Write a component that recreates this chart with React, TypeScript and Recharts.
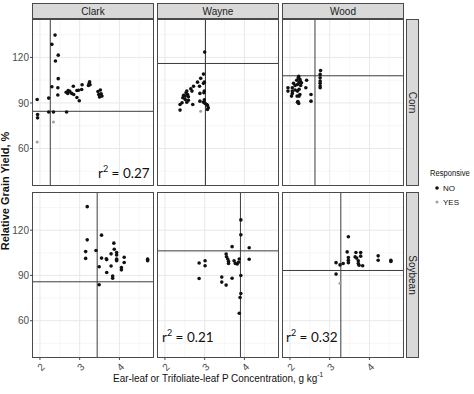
import { ScatterChart, Scatter, XAxis, YAxis, CartesianGrid, ReferenceLine } from "recharts"

// facet labels
const sites = ["Clark", "Wayne", "Wood"]
const crops = ["Corn", "Soybean"]

// axis ticks (major + minor gridlines)
const xTicks = [2, 3, 4]
const xMinor = [2.5, 3.5, 4.5]
const yTicks = [60, 90, 120]
const yMinor = [45, 75, 105, 135]

// critical P concentration / relative yield, row-major (Corn: Clark, Wayne, Wood; Soybean: Clark, Wayne, Wood)
const critX = [2.26, 3.02, 2.63, 3.44, 3.9, 3.28]
const critY = [84.5, 116, 107.9, 85.8, 106.3, 93.3]
const rSquared = ["0.27", "", "", "", "0.21", "0.32"]

// [P concentration, relative yield]
const clarkCornNo: [number, number][] = [
  [2.38, 134.7], [2.3, 128.6], [2.46, 121.5], [2.39, 117.6], [2.46, 106], [2.3, 100.7], [2.45, 100],
  [2.45, 95.2], [1.93, 92.3], [2.22, 93.2], [2.22, 84], [2.34, 84], [2.67, 84], [1.94, 82.4], [1.94, 80.2],
  [2.66, 97.1], [2.71, 98.2], [2.7, 96.3], [2.75, 97.6], [2.8, 96.3], [2.84, 101], [2.85, 95.6],
  [2.93, 98.2], [2.93, 93.6], [2.99, 91.5], [2.97, 98.4], [3.05, 98.9], [3.06, 102],
  [3.22, 101.5], [3.24, 103], [3.26, 102], [3.25, 104],
  [3.46, 97.5], [3.48, 95.5], [3.52, 98.5], [3.54, 96], [3.56, 94.5], [3.5, 94],
]
const clarkCornYes: [number, number][] = [[2.34, 77.5], [1.93, 64.2]]

const wayneCornNo: [number, number][] = [
  [3.0, 123.5], [2.97, 109], [2.9, 106.2], [2.99, 103.7], [2.97, 102.9], [2.82, 103.7], [2.72, 101],
  [2.65, 99.4], [2.68, 97.8], [2.87, 101], [2.99, 97.8], [2.98, 96.7], [2.88, 96.3], [2.55, 97.8],
  [2.53, 96.7], [2.57, 95.6], [2.51, 94.5], [2.59, 94.1], [2.47, 95], [2.45, 93.4], [2.51, 92.3],
  [2.59, 91.8], [2.55, 90.5], [2.43, 90.1], [2.38, 89], [2.38, 85.3], [2.7, 89], [2.88, 91.2],
  [2.97, 90.5], [3.01, 89.7], [3.05, 89], [3.07, 88.4], [3.09, 86.8], [3.07, 85.7], [2.99, 92],
]
const wayneCornYes: [number, number][] = [[2.9, 84.6]]

const woodCornNo: [number, number][] = [
  [2.77, 111.4], [2.76, 108.8], [2.76, 106.6], [2.76, 104.4], [2.76, 102.9], [2.76, 101.1], [2.76, 100],
  [2.21, 106.6], [2.25, 105.5], [2.17, 105], [2.23, 103.5], [2.29, 103.3], [2.19, 102.2], [2.27, 101.5],
  [2.13, 101.5], [2.09, 103], [2.42, 105], [2.4, 100], [2.06, 100], [1.95, 100], [1.95, 97.8],
  [2.06, 97.8], [2.06, 96.3], [2.13, 98.5], [2.19, 97.8], [2.25, 95.6], [2.23, 94.5], [2.19, 90.5],
  [2.22, 89.7], [2.2, 91], [2.53, 95.6], [2.53, 91.2], [2.04, 94.5], [2.18, 94.5], [2.23, 99],
  [2.22, 107.5], [2.26, 104.5],
]
const woodCornYes: [number, number][] = []

const clarkSoyNo: [number, number][] = [
  [3.19, 135.6], [3.19, 113.6], [3.15, 105.8], [3.15, 101.3], [3.41, 106.5], [3.55, 116.7], [3.55, 101.5],
  [3.49, 95.8], [3.49, 83.8], [3.67, 101], [3.68, 100.5], [3.68, 92], [3.79, 104.3], [3.79, 96.3],
  [3.86, 111.4], [3.87, 107.4], [3.93, 105.2], [3.93, 103.6], [3.93, 100.8], [3.93, 99.7], [3.83, 89.6],
  [3.83, 88.1], [4.05, 95.2], [4.05, 93.7], [4.12, 102.1], [4.12, 98.6], [4.71, 100.8], [4.71, 99.7],
]
const clarkSoyYes: [number, number][] = []

const wayneSoyNo: [number, number][] = [
  [3.91, 126.8], [3.91, 116.9], [3.91, 90], [3.91, 78], [3.89, 75.4], [3.87, 65], [3.69, 109.1],
  [3.69, 88.1], [4.12, 108.4], [4.12, 100.7], [3.54, 104.2], [3.54, 83.6], [3.55, 102.4], [3.58, 100.9],
  [3.6, 99.3], [3.6, 98], [3.74, 99.7], [3.77, 98], [3.82, 97.6], [3.85, 98.7], [3.87, 100.9],
  [2.86, 98.3], [2.86, 88], [3.01, 99.7], [3.01, 96.4], [3.43, 88.9], [3.43, 85.6],
]
const wayneSoyYes: [number, number][] = []

const woodSoyNo: [number, number][] = [
  [3.47, 115.6], [3.47, 101.9], [3.47, 100.1], [3.47, 98.5], [3.44, 105.6], [3.64, 102.3], [3.68, 101.5],
  [3.72, 99.7], [3.72, 97.9], [3.66, 105.2], [3.78, 105.2], [3.78, 102.8], [3.83, 96.4], [3.74, 96.8],
  [4.22, 103], [4.22, 100.1], [4.54, 100.1], [4.54, 99.2], [3.16, 98.5], [3.16, 90.9], [3.26, 97],
  [3.34, 97.9],
]
const woodSoyYes: [number, number][] = [[3.26, 84.9]]

const panelNo = [clarkCornNo, wayneCornNo, woodCornNo, clarkSoyNo, wayneSoyNo, woodSoyNo]
const panelYes = [clarkCornYes, wayneCornYes, woodCornYes, clarkSoyYes, wayneSoyYes, woodSoyYes]

// layout
const X_DOMAIN = [1.8, 4.87]
const Y_DOMAIN = [35.3, 145.3]
const PANEL_LEFT = [32, 157, 282]
const PANEL_W = 122
const ROW_TOP = [19, 192]
const ROW_H = [167, 166]
const Y_AXIS_W = 32
const X_AXIS_H = 28
const BORDER = "#4a4a4a"
const FONT = "'Liberation Sans', Arial, sans-serif"

const toPoints = (arr: [number, number][]) => arr.map(([x, y]) => ({ x, y }))

const dot = (fill: string, r: number) => (p: any) => <circle cx={p.cx} cy={p.cy} r={r} fill={fill} />

const XTick = (props: any) => {
  const { x, y, payload } = props
  return (
    <g transform={`translate(${x + 1},${y + 5}) rotate(-45)`}>
      <text textAnchor="middle" dominantBaseline="central" fontSize={10} fill="#4d4d4d" fontFamily={FONT}>
        {payload.value}
      </text>
    </g>
  )
}

function Panel({ row, col }: { row: number; col: number }) {
  const idx = row * 3 + col
  const leftAxis = col === 0
  const bottomAxis = row === 1
  const w = PANEL_W + (leftAxis ? Y_AXIS_W : 0)
  const h = ROW_H[row] + (bottomAxis ? X_AXIS_H : 0)
  return (
    <div style={{ position: "absolute", left: PANEL_LEFT[col] - (leftAxis ? Y_AXIS_W : 0), top: ROW_TOP[row] }}>
      <ScatterChart width={w} height={h} margin={{ top: 0, right: 0, bottom: 0, left: 0 }}>
        <CartesianGrid verticalValues={xMinor} horizontalValues={yMinor} stroke="#f3f3f3" strokeWidth={0.7} />
        <CartesianGrid verticalValues={xTicks} horizontalValues={yTicks} stroke="#e8e8e8" strokeWidth={1} />
        <XAxis
          type="number"
          dataKey="x"
          domain={X_DOMAIN}
          allowDataOverflow
          ticks={xTicks}
          interval={0}
          hide={!bottomAxis}
          height={X_AXIS_H}
          axisLine={false}
          tickSize={2}
          tickMargin={2}
          tickLine={{ stroke: BORDER }}
          tick={<XTick />}
        />
        <YAxis
          type="number"
          dataKey="y"
          domain={Y_DOMAIN}
          allowDataOverflow
          ticks={yTicks}
          interval={0}
          hide={!leftAxis}
          width={Y_AXIS_W}
          axisLine={false}
          tickSize={2}
          tickMargin={1}
          tickLine={{ stroke: BORDER }}
          tick={{ fontSize: 10, fill: "#4d4d4d", fontFamily: FONT }}
        />
        <ReferenceLine x={critX[idx]} stroke="#3c3c3c" strokeWidth={1} />
        <ReferenceLine y={critY[idx]} stroke="#3c3c3c" strokeWidth={1} />
        <Scatter data={toPoints(panelNo[idx])} isAnimationActive={false} shape={dot("#111", 1.8)} />
        <Scatter data={toPoints(panelYes[idx])} isAnimationActive={false} shape={dot("#a0a0a0", 1.5)} />
      </ScatterChart>
    </div>
  )
}

const RSq = ({ x, y, value }: { x: number; y: number; value: string }) => (
  <text x={x} y={y} fontSize={13.5} fill="#111" fontFamily="Lato, 'Liberation Sans', sans-serif">
    r<tspan dy={-6} fontSize={9}>2</tspan>
    <tspan dy={6}>{` = ${value}`}</tspan>
  </text>
)

export default function App() {
  const rPos = [
    { x: PANEL_LEFT[0] + 66, y: ROW_TOP[0] + 159 },
    null,
    null,
    null,
    { x: PANEL_LEFT[1] + 5, y: ROW_TOP[1] + 150 },
    { x: PANEL_LEFT[2] + 4, y: ROW_TOP[1] + 150 },
  ]
  return (
    <div style={{ position: "absolute", left: 0, top: 0, width: 474, height: 394, background: "#fff", fontFamily: FONT }}>
      {[0, 1].map((row) => [0, 1, 2].map((col) => <Panel key={`${row}-${col}`} row={row} col={col} />))}
      <svg width={474} height={394} style={{ position: "absolute", left: 0, top: 0, pointerEvents: "none" }}>
        {/* panel borders */}
        {[0, 1].map((row) =>
          [0, 1, 2].map((col) => (
            <rect key={`b${row}${col}`} x={PANEL_LEFT[col] + 0.5} y={ROW_TOP[row] + 0.5} width={PANEL_W - 1} height={ROW_H[row] - 1} fill="none" stroke={BORDER} />
          ))
        )}
        {/* column strips */}
        {sites.map((s, col) => (
          <g key={s}>
            <rect x={PANEL_LEFT[col] + 0.5} y={3.5} width={PANEL_W - 1} height={15} fill="#d9d9d9" stroke={BORDER} />
            <text x={PANEL_LEFT[col] + PANEL_W / 2} y={11.5} textAnchor="middle" dominantBaseline="central" fontSize={10} fill="#1a1a1a">
              {s}
            </text>
          </g>
        ))}
        {/* row strips */}
        {crops.map((c, row) => (
          <g key={c}>
            <rect x={406.5} y={ROW_TOP[row] + 0.5} width={12} height={ROW_H[row] - 1} fill="#d9d9d9" stroke={BORDER} />
            <text
              x={412.5}
              y={ROW_TOP[row] + ROW_H[row] / 2}
              textAnchor="middle"
              dominantBaseline="central"
              fontSize={10}
              fill="#1a1a1a"
              transform={`rotate(90 412.5 ${ROW_TOP[row] + ROW_H[row] / 2})`}
            >
              {c}
            </text>
          </g>
        ))}
        {/* r-squared */}
        {rSquared.map((v, i) => (v && rPos[i] ? <RSq key={`r${i}`} x={rPos[i]!.x} y={rPos[i]!.y} value={v} /> : null))}
        {/* axis titles */}
        <text
          x={5}
          y={191}
          textAnchor="middle"
          dominantBaseline="central"
          fontSize={11}
          fontWeight="bold"
          fill="#111"
          transform="rotate(-90 5 191)"
        >
          Relative Grain Yield, %
        </text>
        <text transform="translate(113 382) scale(0.865 1)" fontSize={11.5} fill="#111">
          Ear-leaf or Trifoliate-leaf P Concentration, g kg
          <tspan dy={-5} fontSize={7.5}>-1</tspan>
        </text>
        {/* legend */}
        <text transform="translate(430 175.5) scale(0.8 1)" fontSize={9.5} fill="#111">
          Responsive
        </text>
        <circle cx={437} cy={188} r={1.8} fill="#111" />
        <text x={443} y={191} fontSize={8} fill="#111">
          NO
        </text>
        <circle cx={437} cy={202} r={1.5} fill="#a0a0a0" />
        <text x={443} y={205} fontSize={8} fill="#111">
          YES
        </text>
      </svg>
    </div>
  )
}
